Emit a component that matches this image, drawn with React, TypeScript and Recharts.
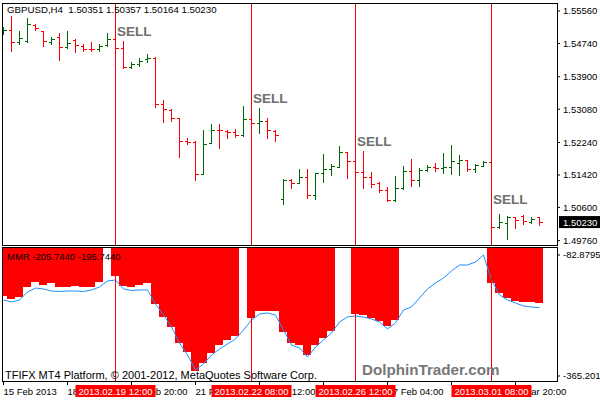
import React from 'react';
import { ComposedChart, Bar, Line, XAxis, YAxis, ReferenceLine, ReferenceDot } from 'recharts';

// GBPUSD H4 bars, 15 Feb 2013 04:00 .. 01 Mar 2013 20:00
const opens = [
  1.5503, 1.5508, 1.5478, 1.548, 1.5521, 1.5506, 1.5478, 1.549, 1.5465, 1.5483,
  1.5468, 1.5461, 1.546, 1.547, 1.5485, 1.5463, 1.5415, 1.5422, 1.5435, 1.5437,
  1.5321, 1.5306, 1.5286, 1.5228, 1.5225, 1.5144, 1.5223, 1.5256, 1.5253, 1.525,
  1.5243, 1.5283, 1.5273, 1.5278, 1.5253, 1.5081, 1.5129, 1.5122, 1.5137, 1.5091,
  1.5146, 1.5157, 1.5162, 1.5199, 1.5177, 1.515, 1.5137, 1.5122, 1.5104, 1.5079,
  1.5109, 1.5152, 1.5129, 1.5155, 1.5162, 1.5159, 1.5162, 1.5172, 1.518, 1.5157,
  1.5165, 1.5175, 1.5011, 1.5021, 1.5036, 1.5038, 1.5023, 1.50351,
];
const highs = [
  1.5516, 1.5543, 1.5506, 1.5538, 1.5523, 1.5506, 1.549, 1.55, 1.5506, 1.5485,
  1.5473, 1.5478, 1.5473, 1.55, 1.5486, 1.548, 1.5427, 1.5437, 1.5447, 1.544,
  1.5331, 1.5309, 1.5286, 1.5235, 1.5228, 1.5256, 1.5271, 1.5271, 1.5256, 1.5258,
  1.5316, 1.5285, 1.5311, 1.5286, 1.5256, 1.5132, 1.5132, 1.5157, 1.5157, 1.5147,
  1.5195, 1.517, 1.5215, 1.52, 1.5178, 1.5203, 1.515, 1.5125, 1.5112, 1.5139,
  1.5165, 1.5182, 1.516, 1.5167, 1.5172, 1.5197, 1.5218, 1.5192, 1.518, 1.517,
  1.5177, 1.5177, 1.5043, 1.5038, 1.5036, 1.5041, 1.5036, 1.50357,
];
const lows = [
  1.5498, 1.5455, 1.5473, 1.5478, 1.5508, 1.5468, 1.5473, 1.5432, 1.5463, 1.5452,
  1.5455, 1.5455, 1.5455, 1.5468, 1.5462, 1.5412, 1.5412, 1.5417, 1.5427, 1.5314,
  1.5276, 1.5278, 1.5187, 1.522, 1.5129, 1.5144, 1.5223, 1.521, 1.5235, 1.5238,
  1.524, 1.5272, 1.5248, 1.5235, 1.5228, 1.5069, 1.5109, 1.5122, 1.5084, 1.5081,
  1.5124, 1.5142, 1.5162, 1.5134, 1.5149, 1.5109, 1.5111, 1.5099, 1.5076, 1.5076,
  1.5107, 1.5114, 1.5114, 1.5152, 1.5152, 1.5147, 1.5144, 1.5142, 1.5152, 1.515,
  1.5165, 1.5009, 1.5008, 1.498, 1.5008, 1.5018, 1.5021, 1.50164,
];
const closes = [
  1.5508, 1.5478, 1.5488, 1.5523, 1.5513, 1.548, 1.5485, 1.5465, 1.5475, 1.547,
  1.546, 1.546, 1.5468, 1.5485, 1.5463, 1.5415, 1.5422, 1.543, 1.5437, 1.5321,
  1.5309, 1.5286, 1.5228, 1.5225, 1.5144, 1.522, 1.5256, 1.5255, 1.525, 1.5243,
  1.5283, 1.5273, 1.5278, 1.5256, 1.5243, 1.513, 1.5122, 1.5137, 1.5091, 1.5146,
  1.5157, 1.5165, 1.52, 1.5177, 1.515, 1.5137, 1.5119, 1.5104, 1.5079, 1.5109,
  1.5152, 1.5129, 1.5155, 1.5162, 1.516, 1.5162, 1.5177, 1.518, 1.5157, 1.5167,
  1.5175, 1.5011, 1.5023, 1.5036, 1.5028, 1.5026, 1.5031, 1.5023,
];

// MMR indicator: histogram + signal line
const mmrHist = [
  -178.5, -185.5, -181.6, -156.8, -146.6, -152.9, -148.9, -156.8, -156.8, -154.5,
  -156.8, -156.8, -146.6, null, -131.2, -154.5, -156.8, -152.9, -148.9, -197.9,
  -226.8, -251.6, -288.9, -308.5, -353.5, -335.6, -310.8, -292.9, -281.2, -271.9,
  null, -229.2, -213.5, -213.5, -213.5, -261.8, -287.5, -292.9, -316.2, -292.9,
  -275.8, -260.2, null, null, -220.5, -222.9, -230.6, -236.9, -248.5, -234.5,
  null, null, null, null, null, null, null, null, null, null,
  null, -147.5, -170.8, -183.9, -190.2, -193.2, -191.8, -195.744,
];
const mmrLine = [
  -187.9, -192.5, -187.9, -169.2, -159.9, -162.2, -166.9, -168.0, -166.9, -166.9,
  -168.0, -164.5, -157.5, -143.5, -141.2, -162.2, -165.7, -164.5, -164.5, -197.2,
  -222.9, -250.9, -288.2, -316.2, -351.2, -337.2, -316.2, -302.2, -290.5, -278.9,
  -257.9, -234.5, -220.5, -218.2, -222.9, -257.9, -292.9, -299.9, -320.9, -297.6,
  -281.2, -264.9, -239.2, -227.5, -225.2, -227.5, -232.2, -239.2, -255.5, -241.5,
  -211.2, -204.2, -183.2, -162.2, -148.2, -136.5, -120.2, -106.2, -106.2, -99.2,
  -82.9, -141.2, -176.2, -187.9, -194.9, -201.9, -204.2, -205.744,
];

const priceTicks = [1.5556, 1.5474, 1.539, 1.5308, 1.5224, 1.5142, 1.506, 1.4976];
const mmrTicks = [-82.8795, -365.2015];
const timeTickIdx = [0, 8, 16, 24, 32, 40, 48, 56, 64];
const timeTickLabels = [
  '15 Feb 2013', '18 Feb 12:00', '19 Feb 20:00', '21 Feb 04:00', '22 Feb 12:00',
  '25 Feb 20:00', '27 Feb 04:00', '28 Feb 12:00', '1 Mar 20:00',
];
const signalIdx = [14, 31, 44, 61];
const signalTimes = ['2013.02.19 12:00', '2013.02.22 08:00', '2013.02.26 12:00', '2013.03.01 08:00'];
const sellPrices = [1.5504, 1.5335, 1.5227, 1.508];
const lastPrice = 1.5023;

const rows = opens.map((o, i) => ({
  i,
  open: o,
  high: highs[i],
  low: lows[i],
  close: closes[i],
  hist: mmrHist[i],
  line: mmrLine[i],
}));

const RED = '#ff0000';
const GREEN = '#006400';
const FONT = '"Liberation Sans", Arial, sans-serif';
const X_DOMAIN: [number, number] = [-0.1875, 69.1875];
const PRICE_DOMAIN: [number, number] = [1.49651, 1.55762];
const MMR_DOMAIN: [number, number] = [-376.9, -64.2];

const OhlcShape = (props: any) => {
  const { x, y, width, height, payload } = props;
  if (x == null || y == null || !payload) return null;
  const top = Math.min(y, y + height);
  const span = Math.abs(height);
  const range = payload.high - payload.low;
  const yOf = (v: number) => (range > 0 ? top + ((payload.high - v) / range) * span : top);
  const cx = Math.floor(x + width / 2) + 0.5;
  const color = payload.close > payload.open ? GREEN : RED;
  const yo = Math.round(yOf(payload.open)) + 0.5;
  const yc = Math.round(yOf(payload.close)) + 0.5;
  return (
    <g stroke={color} strokeWidth={1} shapeRendering="crispEdges">
      <line x1={cx} x2={cx} y1={Math.round(top)} y2={Math.round(top + span) + 1} />
      <line x1={cx - 3} x2={cx} y1={yo} y2={yo} />
      <line x1={cx} x2={cx + 3} y1={yc} y2={yc} />
    </g>
  );
};

// histogram column fills its whole 8px slot, centred on the bar
const HistShape = (props: any) => {
  const { x, y, width, height } = props;
  if (x == null || y == null || !height) return null;
  const cx = Math.floor(x + width / 2);
  return (
    <rect
      x={cx - 4}
      y={Math.min(y, y + height)}
      width={8}
      height={Math.abs(height)}
      fill={RED}
      shapeRendering="crispEdges"
    />
  );
};

// one solid red pixel column for the signal lines
const RedVLine = (props: any) => {
  const top = Math.min(props.y1, props.y2);
  const h = Math.abs(props.y2 - props.y1);
  return <rect x={Math.floor(props.x1)} y={top} width={1} height={h} fill={RED} shapeRendering="crispEdges" />;
};

const SellLabel = (props: any) => {
  const vb = props.viewBox || {};
  const cx = (vb.x ?? 0) + (vb.width ?? 0) / 2;
  const cy = (vb.y ?? 0) + (vb.height ?? 0) / 2;
  return (
    <text x={cx + 1.5} y={cy} dominantBaseline="central" fontSize={13.5} fontWeight="bold" fill="#6f6f6f">
      SELL
    </text>
  );
};

const PriceTag = (props: any) => {
  const vb = props.viewBox || {};
  const left = vb.x + vb.width + 2;
  return (
    <g>
      <rect x={left} y={vb.y - 6} width={44} height={12} fill="#000" />
      <text x={left + 4} y={vb.y} dominantBaseline="central" fontSize={9.5} fill="#fff">
        {lastPrice.toFixed(5)}
      </text>
    </g>
  );
};

const TimeFlag = (props: any) => {
  const vb = props.viewBox || {};
  const bottom = vb.y + vb.height;
  return (
    <g>
      <rect x={vb.x - 40} y={bottom + 4} width={80} height={12} fill={RED} />
      <text x={vb.x} y={bottom + 10} dominantBaseline="central" textAnchor="middle" fontSize={9.5} fill="#fff">
        {props.text}
      </text>
    </g>
  );
};

const TimeTick = (props: any) => {
  const { x, y, payload } = props;
  const k = timeTickIdx.indexOf(payload.value);
  return (
    <text x={x} y={y} dy="0.71em" textAnchor="start" fontSize={9.5} fill="#000">
      {k >= 0 ? timeTickLabels[k] : ''}
    </text>
  );
};

const textStyle: React.CSSProperties = { position: 'absolute', whiteSpace: 'nowrap', lineHeight: '12px' };
const layer: React.CSSProperties = { position: 'absolute', left: 0 };

export default function App() {
  return (
    <div
      style={{
        position: 'absolute',
        left: 0,
        top: 0,
        width: 600,
        height: 400,
        background: '#fff',
        overflow: 'hidden',
        fontFamily: FONT,
      }}
    >
      {/* price pane */}
      <div style={{ ...layer, top: 0 }}>
        <ComposedChart width={600} height={246} data={rows} margin={{ top: 3, right: 0, bottom: 1, left: 2 }}>
          <XAxis dataKey="i" type="number" domain={X_DOMAIN} allowDataOverflow hide />
          <YAxis
            orientation="right"
            width={43}
            domain={PRICE_DOMAIN}
            allowDataOverflow
            ticks={priceTicks}
            interval={0}
            tickFormatter={(v: number) => v.toFixed(5)}
            tick={{ fontSize: 9.5, fill: '#000' }}
            tickSize={3}
            tickMargin={3}
            axisLine={false}
            tickLine={{ stroke: '#000' }}
          />
          <Bar
            dataKey={(d: any) => [d.low, d.high]}
            barSize={8}
            shape={<OhlcShape />}
            isAnimationActive={false}
          />
          {signalIdx.map((idx) => (
            <ReferenceLine key={`v-${idx}`} x={idx} stroke={RED} shape={(p: any) => <RedVLine {...p} />} />
          ))}
          {sellPrices.map((p, k) => (
            <ReferenceDot
              key={`sell-${k}`}
              x={signalIdx[k]}
              y={p}
              r={0}
              fill="none"
              stroke="none"
              label={(lp: any) => <SellLabel {...lp} />}
            />
          ))}
          <ReferenceLine y={lastPrice} stroke="none" label={(lp: any) => <PriceTag {...lp} />} />
        </ComposedChart>
      </div>

      {/* indicator pane */}
      <div style={{ ...layer, top: 246 }}>
        <ComposedChart
          width={600}
          height={154}
          data={rows}
          barCategoryGap={0}
          barGap={0}
          margin={{ top: 1, right: 0, bottom: 1, left: 2 }}
        >
          <XAxis
            dataKey="i"
            type="number"
            domain={X_DOMAIN}
            allowDataOverflow
            ticks={timeTickIdx}
            interval={0}
            tick={(tp: any) => <TimeTick {...tp} />}
            tickSize={4}
            tickMargin={3}
            axisLine={false}
            tickLine={{ stroke: '#000' }}
            height={18}
          />
          <YAxis
            orientation="right"
            width={43}
            domain={MMR_DOMAIN}
            allowDataOverflow
            ticks={mmrTicks}
            interval={0}
            tickFormatter={(v: number) => v.toFixed(4)}
            tick={{ fontSize: 9.5, fill: '#000' }}
            tickSize={3}
            tickMargin={3}
            axisLine={false}
            tickLine={{ stroke: '#000' }}
          />
          <Bar dataKey="hist" barSize={8} shape={<HistShape />} isAnimationActive={false} />
          <Line
            dataKey="line"
            type="linear"
            stroke="#1e90ff"
            strokeWidth={1}
            dot={false}
            connectNulls
            isAnimationActive={false}
          />
        </ComposedChart>
      </div>

      {/* signal lines and time flags drawn over the indicator pane and its time scale */}
      <div style={{ ...layer, top: 246 }}>
        <ComposedChart width={600} height={154} data={rows} margin={{ top: 1, right: 43, bottom: 19, left: 2 }}>
          <XAxis dataKey="i" type="number" domain={X_DOMAIN} allowDataOverflow hide />
          <YAxis domain={MMR_DOMAIN} allowDataOverflow hide />
          {signalIdx.map((idx, k) => (
            <ReferenceLine
              key={`vl-${idx}`}
              x={idx}
              stroke={RED}
              shape={(p: any) => <RedVLine {...p} />}
              label={(lp: any) => <TimeFlag {...lp} text={signalTimes[k]} />}
            />
          ))}
        </ComposedChart>
      </div>

      {/* pane borders */}
      <div style={{ position: 'absolute', left: 2, top: 3, width: 556, height: 243, border: '1px solid #000', boxSizing: 'border-box', pointerEvents: 'none' }} />
      <div style={{ position: 'absolute', left: 2, top: 247, width: 556, height: 135, border: '1px solid #000', boxSizing: 'border-box', pointerEvents: 'none' }} />

      <div style={{ ...textStyle, left: 7, top: 4, fontSize: 9.7, color: '#000' }}>
        GBPUSD,H4&nbsp;&nbsp;1.50351 1.50357 1.50164 1.50230
      </div>
      <div style={{ ...textStyle, left: 7, top: 251, fontSize: 9.5, color: '#000' }}>
        MMR -205.7440 -195.7440
      </div>
      <div style={{ ...textStyle, left: 5, top: 369, fontSize: 11, color: '#000' }}>
        TFIFX MT4 Platform, © 2001-2012, MetaQuotes Software Corp.
      </div>
      <div style={{ ...textStyle, left: 362, top: 361, fontSize: 15.2, fontWeight: 'bold', color: '#777', lineHeight: '17px' }}>
        DolphinTrader.com
      </div>
    </div>
  );
}
